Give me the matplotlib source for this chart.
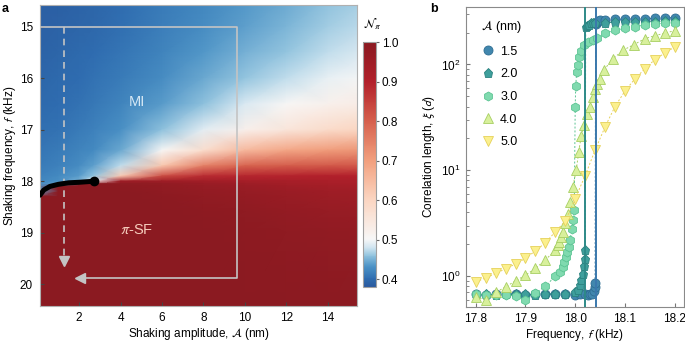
import numpy as np
import matplotlib
matplotlib.use("Agg")
import matplotlib.pyplot as plt
from matplotlib.colors import LinearSegmentedColormap

plt.rcParams['font.family'] = ['Liberation Sans', 'DejaVu Sans']
plt.rcParams['mathtext.fontset'] = 'stixsans'
plt.rcParams['font.size'] = 8.5

# ---- panel a: N_pi map ----
amp_grid = [0.0, 1.0, 2.0, 2.7, 4.0, 6.0, 8.0, 10.0, 12.0, 14.0, 16.0]
freq_grid = [14.5, 15.0, 15.5, 16.0, 16.5, 17.0, 17.4, 17.7, 17.9, 18.0,
             18.05, 18.1, 18.2, 18.3, 18.6, 19.0, 20.5]
npi = [
    [0.385, 0.387, 0.390, 0.393, 0.400, 0.412, 0.423, 0.435, 0.445, 0.458, 0.468],
    [0.388, 0.390, 0.393, 0.396, 0.404, 0.416, 0.428, 0.440, 0.452, 0.465, 0.475],
    [0.390, 0.393, 0.397, 0.400, 0.408, 0.421, 0.434, 0.448, 0.462, 0.476, 0.487],
    [0.393, 0.397, 0.401, 0.405, 0.413, 0.428, 0.444, 0.460, 0.476, 0.492, 0.505],
    [0.397, 0.401, 0.406, 0.410, 0.420, 0.438, 0.458, 0.485, 0.505, 0.522, 0.535],
    [0.402, 0.406, 0.412, 0.417, 0.430, 0.458, 0.490, 0.525, 0.555, 0.585, 0.605],
    [0.407, 0.412, 0.419, 0.425, 0.445, 0.505, 0.580, 0.655, 0.690, 0.705, 0.720],
    [0.412, 0.418, 0.428, 0.440, 0.475, 0.630, 0.750, 0.795, 0.805, 0.810, 0.815],
    [0.418, 0.424, 0.438, 0.460, 0.620, 0.830, 0.880, 0.890, 0.895, 0.900, 0.900],
    [0.422, 0.430, 0.450, 0.500, 0.950, 0.950, 0.940, 0.930, 0.925, 0.920, 0.920],
    [0.426, 0.440, 1.000, 1.000, 0.990, 0.980, 0.960, 0.950, 0.935, 0.925, 0.920],
    [0.430, 1.000, 1.000, 1.000, 0.995, 0.985, 0.970, 0.960, 0.945, 0.935, 0.930],
    [0.440, 1.000, 1.000, 1.000, 1.000, 0.990, 0.980, 0.970, 0.960, 0.950, 0.945],
    [1.000, 1.000, 1.000, 1.000, 1.000, 0.995, 0.985, 0.975, 0.965, 0.955, 0.950],
    [1.000, 1.000, 1.000, 1.000, 1.000, 1.000, 0.995, 0.990, 0.980, 0.970, 0.965],
    [1.000, 1.000, 1.000, 1.000, 1.000, 1.000, 1.000, 0.995, 0.990, 0.985, 0.980],
    [1.000, 1.000, 1.000, 1.000, 1.000, 1.000, 1.000, 1.000, 1.000, 1.000, 1.000],
]

# phase boundary (black line)
bound_amp = [0.12, 0.3, 0.6, 1.0, 1.5, 2.0, 2.7]
bound_freq = [18.27, 18.17, 18.10, 18.06, 18.03, 18.02, 18.00]

# measurement paths
path_amp = [0.12, 9.6, 9.6, 2.3]
path_freq = [15.0, 15.0, 19.87, 19.87]
dash_amp = [1.3, 1.3]
dash_freq = [15.0, 19.45]

# ---- panel b: correlation length ----
f15 = [17.80, 17.82, 17.84, 17.86, 17.88, 17.90, 17.92, 17.94, 17.96, 17.98, 18.00,
       18.01, 18.02, 18.025, 18.03, 18.034, 18.037, 18.039, 18.040, 18.041, 18.043,
       18.046, 18.05, 18.06, 18.08, 18.10, 18.12, 18.14, 18.16, 18.18, 18.20]
xi15 = [0.67, 0.66, 0.67, 0.67, 0.68, 0.66, 0.67, 0.67, 0.68, 0.67, 0.66,
        0.67, 0.67, 0.66, 0.67, 0.68, 0.72, 0.78, 0.86, 240, 252,
        258, 262, 264, 266, 268, 270, 271, 273, 275, 277]

f20 = [17.80, 17.82, 17.84, 17.86, 17.88, 17.90, 17.92, 17.94, 17.96, 17.98, 18.00,
       18.005, 18.009, 18.012, 18.015, 18.017, 18.019, 18.020,
       18.021, 18.024, 18.028, 18.032, 18.036, 18.04, 18.06, 18.08, 18.10, 18.12,
       18.14, 18.16, 18.18, 18.20]
xi20 = [0.66, 0.67, 0.66, 0.68, 0.67, 0.67, 0.66, 0.68, 0.67, 0.68, 0.70,
        0.74, 0.82, 0.92, 1.05, 1.25, 1.45, 1.75,
        225, 232, 238, 244, 247, 248, 249, 250, 251, 252,
        253, 254, 256, 258]

f30 = [17.80, 17.82, 17.84, 17.86, 17.88, 17.90, 17.92, 17.94, 17.96,
       17.97, 17.975, 17.978, 17.981, 17.984, 17.987, 17.99, 17.993, 17.996, 17.998,
       18.000, 18.001, 18.003, 18.005, 18.008, 18.012, 18.018, 18.025, 18.035, 18.043,
       18.06, 18.08, 18.10, 18.12, 18.14, 18.16, 18.18, 18.20]
xi30 = [0.68, 0.66, 0.66, 0.66, 0.65, 0.59, 0.69, 0.80, 1.00,
        1.10, 1.22, 1.36, 1.52, 1.70, 1.89, 2.2, 2.8, 3.4, 4.2,
        40, 63, 85, 98, 117, 135, 151, 162, 170, 178,
        198, 210, 219, 228, 235, 241, 245, 248]

f40 = [17.80, 17.82, 17.84, 17.86, 17.88, 17.90, 17.92, 17.94, 17.96,
       17.965, 17.968, 17.972, 17.976, 17.98, 17.985, 17.99, 17.995,
       18.002, 18.007, 18.012, 18.018, 18.024, 18.030, 18.035, 18.039, 18.044, 18.049,
       18.057, 18.076, 18.096, 18.118, 18.14, 18.16, 18.18, 18.20]
xi40 = [0.63, 0.60, 0.70, 0.79, 0.90, 1.02, 1.18, 1.42, 1.76,
        1.96, 2.1, 2.32, 2.62, 3.14, 3.9, 5.0, 6.9,
        10, 14.8, 21, 27, 34, 40, 49, 58, 66, 73,
        88, 113, 136, 154, 175, 187, 197, 209]

f50 = [17.80, 17.82, 17.84, 17.86, 17.88, 17.90, 17.92, 17.94, 17.96, 17.98, 18.00,
       18.02, 18.04, 18.06, 18.08, 18.10, 18.12, 18.14, 18.16, 18.18, 18.20]
xi50 = [0.88, 0.96, 1.06, 1.17, 1.30, 1.47, 1.73, 2.06, 2.62, 3.3, 5.4,
        8.9, 15.5, 25.7, 40, 56, 73, 91, 111, 128, 146]

trans_freq = [18.02, 18.041]   # vertical lines (2.0 and 1.5 nm)

series = [
    ("1.5", f15, xi15, "o", "#4187ae", "#2e6d92"),
    ("2.0", f20, xi20, "p", "#3f9f9c", "#2b817f"),
    ("3.0", f30, xi30, "h", "#80daaf", "#5cc493"),
    ("4.0", f40, xi40, "^", "#d8f09c", "#a8cf62"),
    ("5.0", f50, xi50, "v", "#fbf08e", "#e6d15a"),
]

nodes = [(0.38, '#2a5a9f'), (0.40, '#2f6db0'), (0.43, '#4a91c5'), (0.46, '#93c5df'),
         (0.48, '#d1e5f0'), (0.50, '#f7f7f7'), (0.60, '#fbd6c2'), (0.70, '#f2a07e'),
         (0.80, '#d6604d'), (0.90, '#b2202b'), (1.00, '#8b1a21')]
cmap = LinearSegmentedColormap.from_list(
    "npi", [((v - 0.38) / 0.62, c) for v, c in nodes])

spine_c = "#8a8a8a"
fig = plt.figure(figsize=(6.85, 3.43), dpi=100)

# ---------- a ----------
ax = fig.add_axes([0.0584, 0.1079, 0.4628, 0.8776])
mesh = ax.pcolormesh(amp_grid, freq_grid, np.array(npi), shading="gouraud",
                     cmap=cmap, vmin=0.38, vmax=1.0, rasterized=True)
ax.plot(path_amp, path_freq, color="#c4c4c4", lw=1.2, zorder=3)
ax.plot([2.05], [19.87], marker="<", ms=7, color="#c4c4c4", zorder=3)
ax.plot(dash_amp, dash_freq, color="#c4c4c4", lw=1.2, ls=(0, (4, 3)), zorder=3)
ax.plot([1.3], [19.55], marker="v", ms=7, color="#c4c4c4", zorder=3)
ax.plot(bound_amp, bound_freq, color="black", lw=3.6, solid_capstyle="round", zorder=4)
ax.plot([bound_amp[-1]], [bound_freq[-1]], "o", color="black", ms=6, zorder=4)
ax.text(4.8, 16.46, "MI", color="#d6e8f5", fontsize=10.5, ha="center", va="center")
ax.text(4.8, 18.95, r"$\pi$-SF", color="#f6cdbd", fontsize=10.5, ha="center", va="center")
ax.set_xlim(0.12, 15.4)
ax.set_ylim(20.42, 14.58)
ax.set_xticks([2, 4, 6, 8, 10, 12, 14])
ax.set_yticks([15, 16, 17, 18, 19, 20])
ax.set_xlabel(r"Shaking amplitude, $\mathcal{A}$ (nm)", labelpad=2)
ax.set_ylabel(r"Shaking frequency, $f$ (kHz)", labelpad=1)
ax.tick_params(direction="in", length=3, color="#444444", pad=4)
ax.tick_params(axis="y", pad=5)
for s in ax.spines.values():
    s.set_color("#b0b0b0")

cax = fig.add_axes([0.530, 0.163, 0.019, 0.714])
cb = fig.colorbar(mesh, cax=cax, ticks=[0.4, 0.5, 0.6, 0.7, 0.8, 0.9, 1.0])
cb.ax.tick_params(length=2, color="#666666", pad=2)
cb.outline.set_edgecolor("#a0a0a0")
cb.ax.set_yticklabels(["0.4", "0.5", "0.6", "0.7", "0.8", "0.9", "1.0"])
fig.text(0.543, 0.93, r"$\mathcal{N}_{\pi}$", ha="center", va="center", fontsize=8.5)

# ---------- b ----------
bx = fig.add_axes([0.680, 0.105, 0.318, 0.875])
for xv, col in zip(trans_freq, ["#2e8a88", "#3a78ac"]):
    bx.axvline(xv, color=col, lw=1.4, zorder=5)
for lab, fx, yx, mk, fc, ec in series:
    bx.plot(fx, yx, ls=(0, (2, 2)), lw=0.7, color=ec, marker=mk, ms=6.5,
            mfc=fc, mec=ec, mew=0.6, label=lab, zorder=3)
bx.set_yscale("log")
bx.set_xlim(17.78, 18.218)
bx.set_ylim(0.51, 350)
bx.set_xticks([17.8, 17.9, 18.0, 18.1, 18.2])
bx.set_xticklabels(["17.8", "17.9", "18.0", "18.1", "18.2"])
bx.set_xlabel(r"Frequency, $f$ (kHz)", labelpad=2)
bx.set_ylabel(r"Correlation length, $\xi$ ($d$)", labelpad=3)
bx.tick_params(which="both", direction="in", color="#777777", pad=4)
bx.tick_params(which="major", length=3)
bx.tick_params(which="minor", length=2)
for s in bx.spines.values():
    s.set_color(spine_c)
leg = bx.legend(title=r"$\mathcal{A}$ (nm)", loc="upper left", frameon=False,
                bbox_to_anchor=(0.02, 1.0), handlelength=1.0, handletextpad=0.5,
                labelspacing=0.85, fontsize=9, title_fontsize=9)
leg._legend_box.align = "left"
for h in leg.legend_handles:
    h.set_linestyle("none")

fig.text(0.003, 0.975, "a", fontweight="bold", fontsize=9, va="center")
fig.text(0.628, 0.975, "b", fontweight="bold", fontsize=9, va="center")

fig.savefig("out.png", dpi=100)
